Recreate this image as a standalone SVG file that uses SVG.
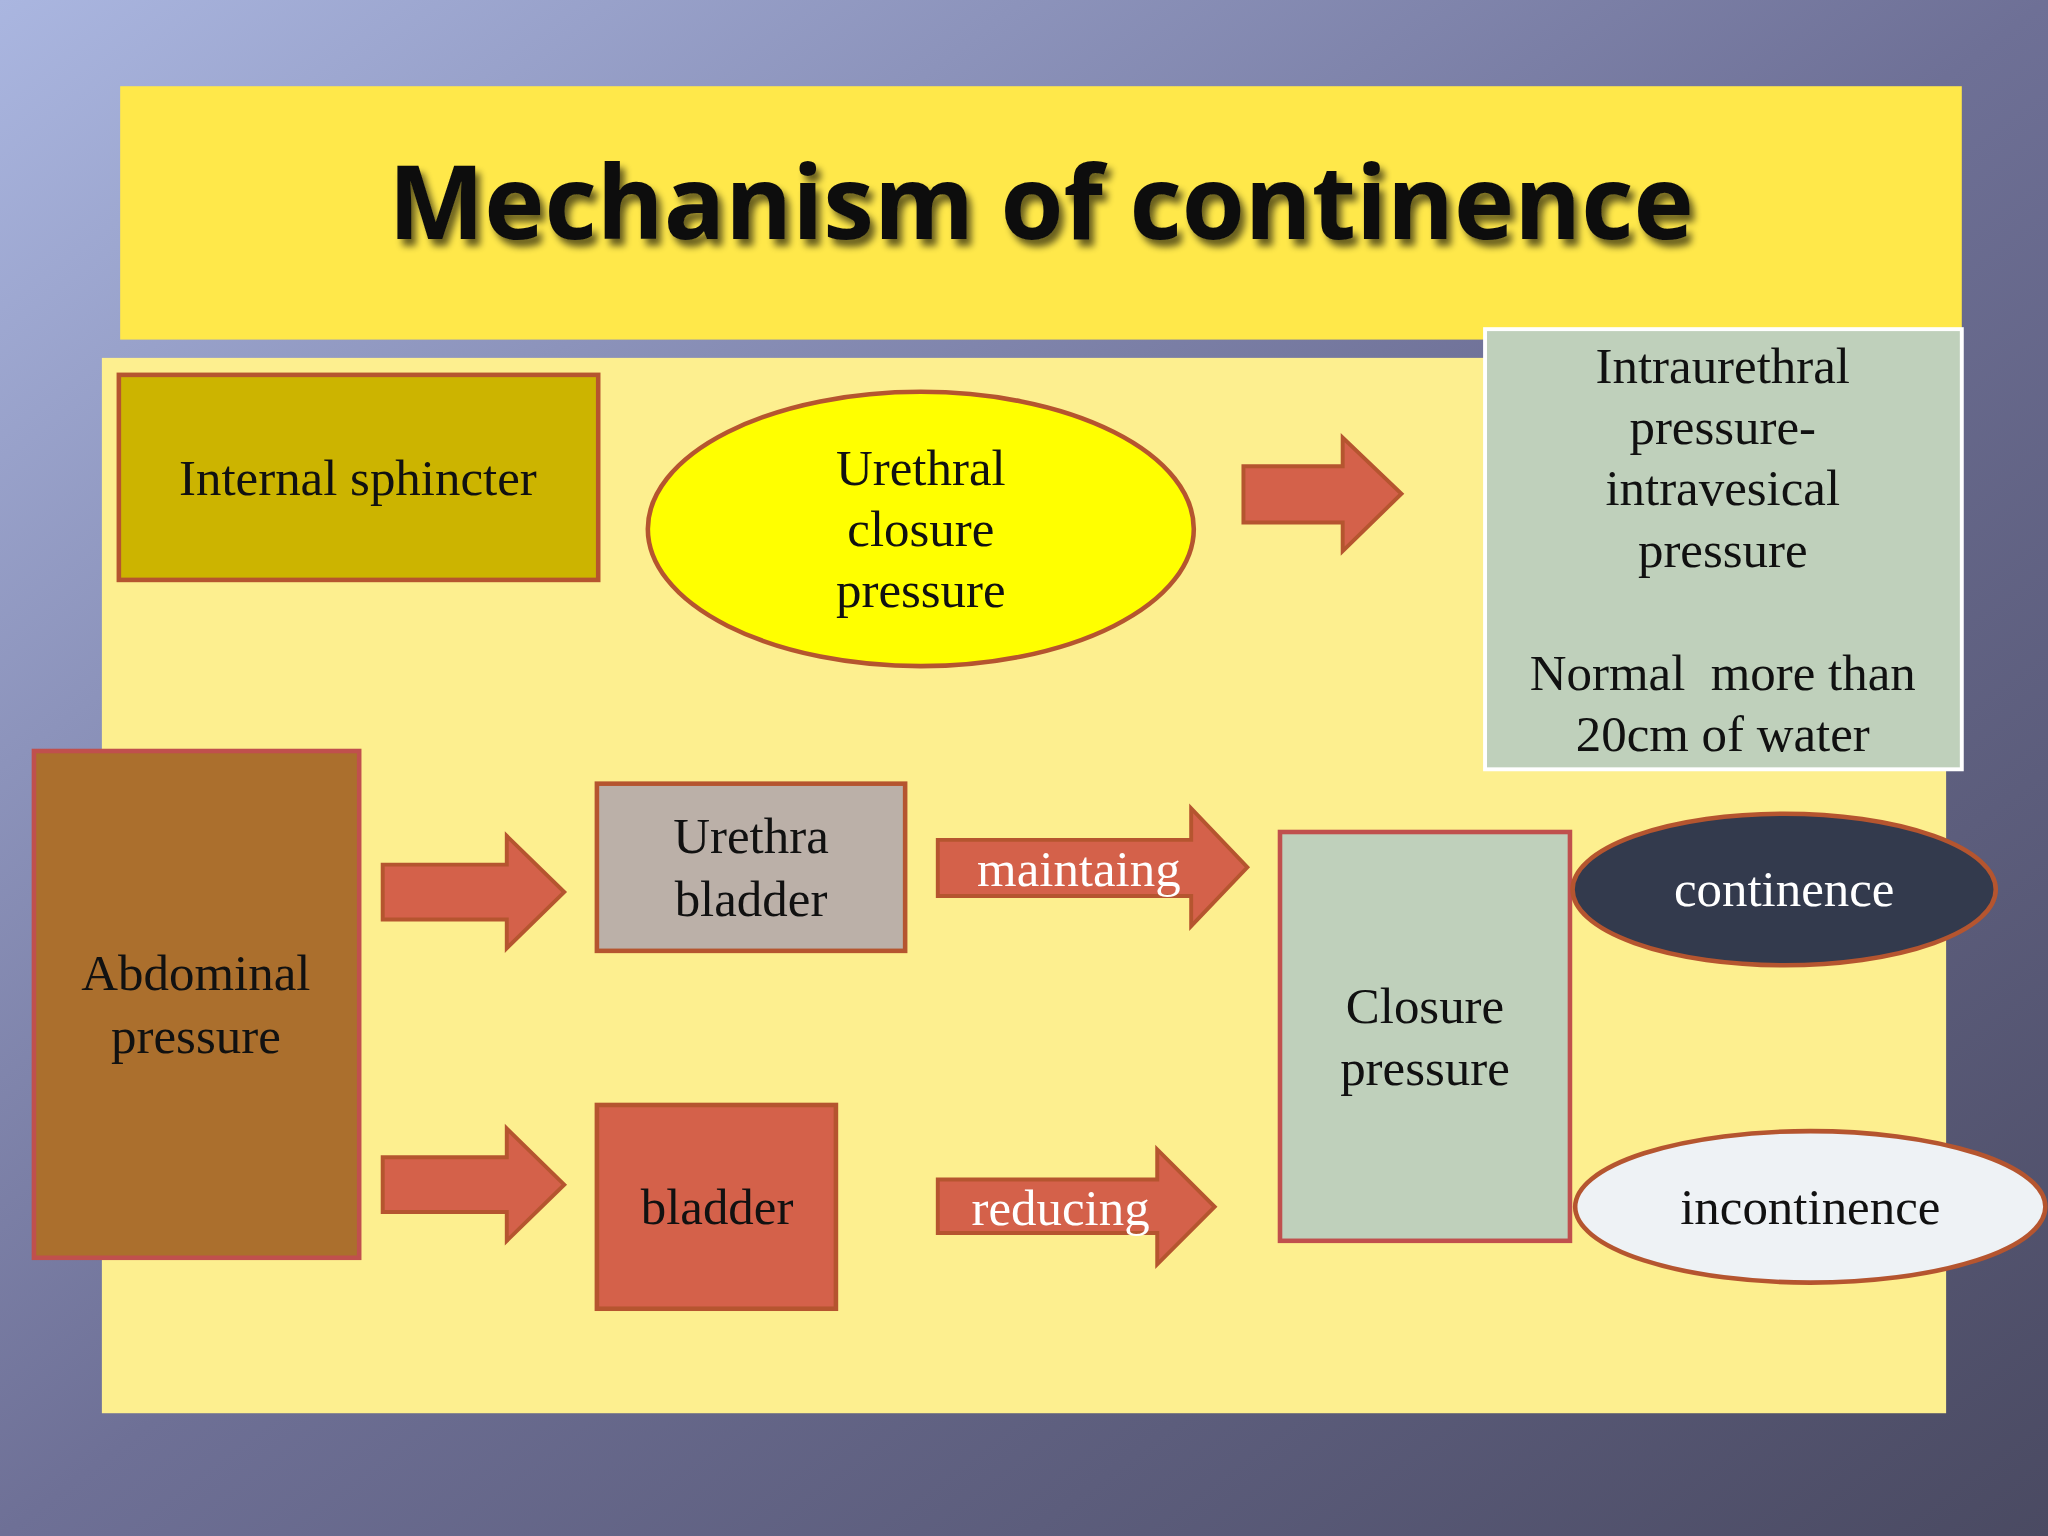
<svg xmlns="http://www.w3.org/2000/svg" width="2048" height="1536" viewBox="0 0 2048 1536">
<defs>
<linearGradient id="bg" x1="0" y1="0" x2="1" y2="1">
<stop offset="0" stop-color="#aab6e0"/><stop offset="0.5" stop-color="#6e7096"/><stop offset="1" stop-color="#4a4a62"/>
</linearGradient>
<filter id="sh" x="-5%" y="-20%" width="110%" height="150%"><feGaussianBlur in="SourceAlpha" stdDeviation="3"/><feOffset dx="4" dy="5"/><feComponentTransfer><feFuncA type="linear" slope="0.6"/></feComponentTransfer><feMerge><feMergeNode/><feMergeNode in="SourceGraphic"/></feMerge></filter>
<style>
.t{font-family:"Liberation Serif","DejaVu Serif",serif;font-size:39px;text-anchor:middle;fill:#111}
.w{fill:#fff}
.b{stroke:#b5552f;stroke-width:3.5}
.ar{fill:#d4614a;stroke:#b5552f;stroke-width:3}
</style>
</defs>
<rect width="2048" height="1536" fill="url(#bg)"/>
<g transform="scale(1.30612)">
<g id="title"><rect x="92" y="66" width="1410" height="194" fill="#ffe84a"/>
<text x="797" y="183" filter="url(#sh)" style="font-family:'Open Sans','Liberation Sans',sans-serif;font-weight:bold;font-size:78px;text-anchor:middle;fill:#111">Mechanism of continence</text></g>
<rect x="78" y="274" width="1412" height="808" fill="#fdef8f"/>
<g id="internal"><rect class="b" x="91" y="287" width="367" height="157" fill="#ccb400"/><text class="t" x="274" y="379">Internal sphincter</text></g>
<g id="ucp"><ellipse class="b" cx="705" cy="405" rx="209" ry="105" fill="#ffff00"/><text class="t" x="705" y="371">Urethral</text><text class="t" x="705" y="418">closure</text><text class="t" x="705" y="465">pressure</text></g>
<g id="intra"><rect x="1137" y="252" width="365" height="337" fill="#bfd0bb" stroke="#fff" stroke-width="3"/>
<text class="t" x="1319" y="293">Intraurethral</text><text class="t" x="1319" y="340">pressure-</text><text class="t" x="1319" y="387">intravesical</text><text class="t" x="1319" y="434">pressure</text><text class="t" x="1319" y="528" xml:space="preserve">Normal  more than</text><text class="t" x="1319" y="575">20cm of water</text></g>
<g id="abd"><rect x="26" y="575" width="249" height="388" fill="#ab6f2d" stroke="#c0504d" stroke-width="3.5"/><text class="t" x="150" y="758">Abdominal</text><text class="t" x="150" y="806">pressure</text></g>
<g id="ub"><rect class="b" x="457" y="600" width="236" height="128" fill="#bbb0a8"/><text class="t" x="575" y="653">Urethra</text><text class="t" x="575" y="701">bladder</text></g>
<g id="bl"><rect class="b" x="457" y="846" width="183" height="156" fill="#d4614a"/><text class="t" x="549" y="937">bladder</text></g>
<g id="cp"><rect x="980" y="637" width="222" height="313" fill="#bfd0bb" stroke="#c0504d" stroke-width="3.5"/><text class="t" x="1091" y="783">Closure</text><text class="t" x="1091" y="831">pressure</text></g>
<g id="cont"><ellipse class="b" cx="1366" cy="681" rx="162" ry="58" fill="#333a4d"/><text class="t w" x="1366" y="694">continence</text></g>
<g id="incont"><ellipse class="b" cx="1386" cy="924" rx="180" ry="58" fill="#eef2f5"/><text class="t" x="1386" y="937">incontinence</text></g>
<g id="connectors">
<polygon class="ar" points="952,357 1028,357 1028,335 1073,378 1028,422 1028,400 952,400"/>
<polygon class="ar" points="293,662 388,662 388,640 432,683 388,726 388,704 293,704"/>
<polygon class="ar" points="293,886 388,886 388,864 432,907 388,950 388,928 293,928"/>
<polygon class="ar" points="718,643 912,643 912,619 955,664 912,709 912,686 718,686"/>
<text class="t w" x="826" y="678">maintaing</text>
<polygon class="ar" points="718,903 886,903 886,880 930,924 886,968 886,944 718,944"/>
<text class="t w" x="812" y="938">reducing</text>
</g>
</g>
</svg>
